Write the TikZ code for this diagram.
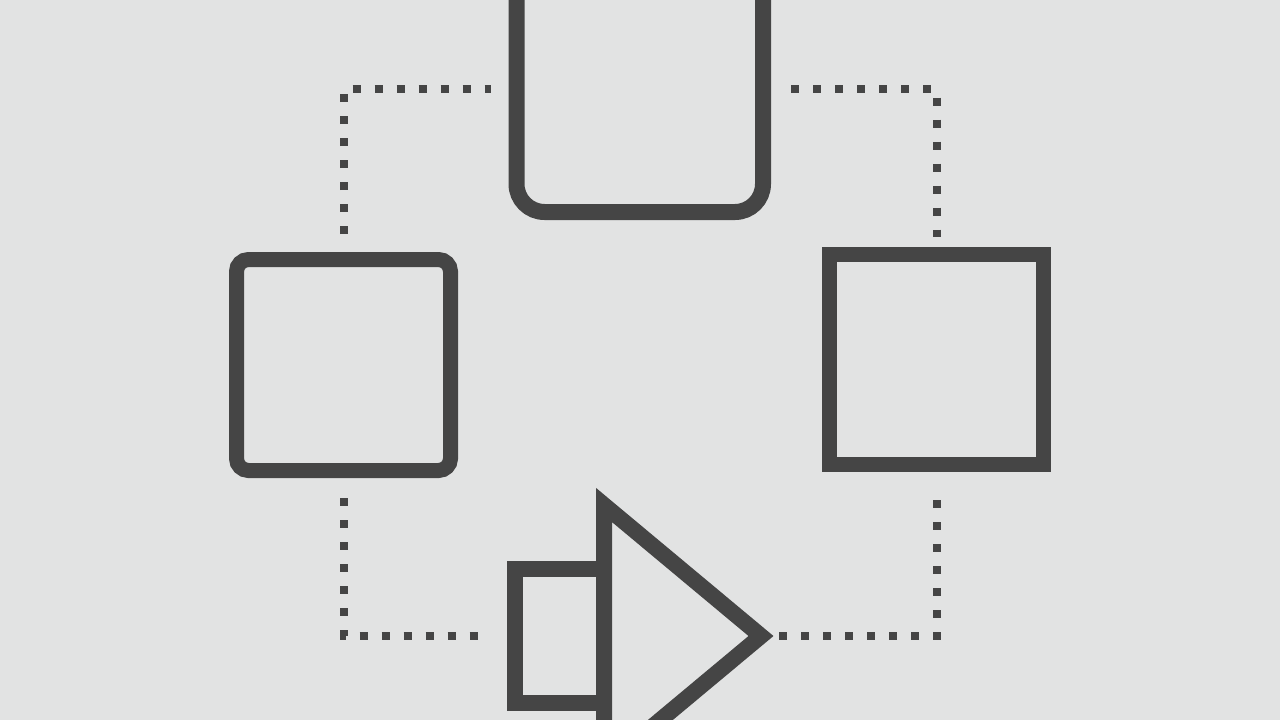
\documentclass[tikz,border=0pt]{standalone}
\usetikzlibrary{calc}
\definecolor{bgc}{HTML}{E2E3E3}
\definecolor{ink}{HTML}{454545}
\begin{document}
\begin{tikzpicture}[x=1pt,y=-1pt,
  box/.style={draw=ink, inner sep=0pt, fill=none},
  dotline/.style={draw=ink, line width=8pt, dash pattern=on 8pt off 14pt, line cap=butt},
  shapeline/.style={draw=ink, line width=16pt, line join=miter, miter limit=10}]
\useasboundingbox (0,0) rectangle (1280,720);
\fill[bgc] (0,0) rectangle (1280,720);
\clip (0,0) rectangle (1280,720);
% boxes
\node[box, line width=15pt, rounded corners=12pt, minimum width=214pt, minimum height=211pt] (leftbox) at (343.5,365) {};
\node[box, line width=15pt, minimum width=214pt, minimum height=210pt] (rightbox) at (936.5,359.5) {};
\node[box, line width=16pt, rounded corners=28pt, minimum width=246.5pt, minimum height=312pt] (topbox) at (639.75,56) {};
% amplifier symbol
\coordinate (tip) at (761,636);
\coordinate (tritop) at (604,505);
\coordinate (tribot) at (604,767);
\draw[shapeline] (tritop) -- (tip) -- (tribot) -- cycle;
\draw[shapeline] (604,569) -| (515,703) -- (604,703);
% free ends of connectors
\coordinate (tlend) at (491,89);
\coordinate (trend) at (791,89);
\coordinate (blend) at (486,636);
% dotted connectors
\draw[dotline, shorten <=18pt] (leftbox.north) |- (tlend);
\draw[dotline, shorten >=10pt] (trend) -| (rightbox.north);
\draw[dotline, shorten <=20pt] (leftbox.south) |- (blend);
\draw[dotline, shorten <=18pt, shorten >=21pt] (tip) -| (rightbox.south);
\end{tikzpicture}
\end{document}
